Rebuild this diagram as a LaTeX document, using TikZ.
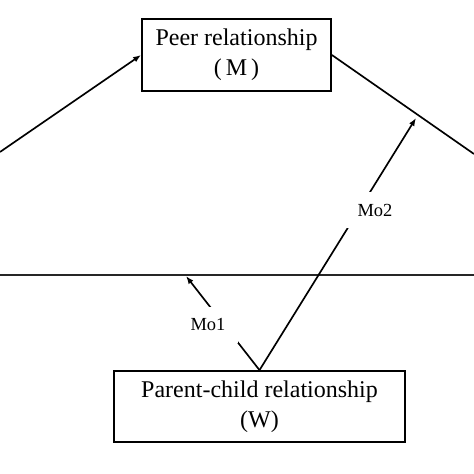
\documentclass[tikz,border=0pt]{standalone}
\usepackage{fontspec}
\setmainfont{Liberation Serif}
\usetikzlibrary{arrows.meta}

\begin{document}
\begin{tikzpicture}[box/.style={draw,line width=1pt,align=center,inner sep=0pt,font=\fontsize{13.66}{17.07}\selectfont},
  lab/.style={fill=white,inner sep=0pt,minimum width=1.18cm,minimum height=0.72cm,font=\fontsize{10.5}{12}\selectfont},
  arr/.style={-{Latex[length=1.6mm,width=1.2mm]},line width=0.95pt}]
\useasboundingbox (0,0) rectangle (9.48,9.48);
%boxes
\node (peer) [box,minimum width=3.78cm,minimum height=1.44cm] at (4.73,8.38) {Peer relationship\\(\,M\,)};
\node (parent) [box,minimum width=5.82cm,minimum height=1.42cm] at (5.19,1.35) {Parent-child relationship\\(W)};
%paths
\coordinate (xin) at (0,6.44);
\coordinate (yout) at (9.48,6.40);
\coordinate (xl) at (0,3.98);
\coordinate (yr) at (9.48,3.98);
\draw[arr] (xin) -- (peer.west);
\draw[line width=0.95pt] (peer.east) -- (yout);
\draw[line width=0.95pt,black!85] (xl) -- (yr);
%moderation
\coordinate (tip1) at (3.72,3.96);
\coordinate (tip2) at (8.32,7.12);
\draw[arr] (parent.north) -- (tip1);
\draw[arr] (parent.north) -- (tip2);
\node (mo1) [lab] at (4.16,2.98) {Mo1};
\node (mo2) [lab] at (7.50,5.28) {Mo2};
\end{tikzpicture}
\end{document}
